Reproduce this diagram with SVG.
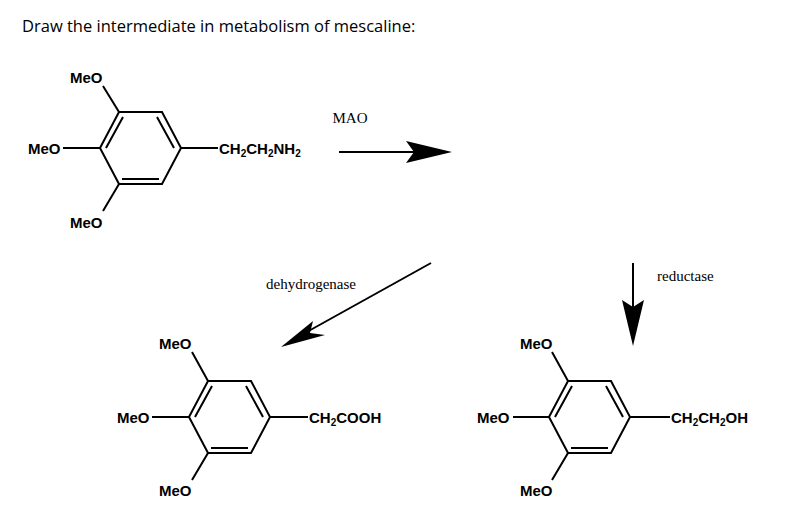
<svg xmlns="http://www.w3.org/2000/svg" width="810" height="513" viewBox="0 0 810 513">
<style>
.b{stroke:#000;stroke-width:2;fill:none}
.t{font-family:"Liberation Sans",Arial,sans-serif;font-size:15px;font-weight:bold;fill:#000}
.s{font-family:"Liberation Serif","Times New Roman",serif;font-size:15px;fill:#000}
.sub{font-size:10px}
</style>
<defs>
<g id="ring">
<path class="b" d="M0,0 L19,-36 L62,-36 L81,0 L62,36 L19,36 Z"/>
<path class="b" d="M6,0 L23,-31 M57,-31 L74,0 M22,31 L59,31"/>
</g>
</defs>
<rect width="810" height="513" fill="#fff"/>
<text x="22" y="32" font-family="'Open Sans','Liberation Sans',sans-serif" font-size="16.5">Draw the intermediate in metabolism of mescaline:</text>
<g id="mescaline">
<use href="#ring" x="100" y="148"/>
<path class="b" d="M119,112 L103,86 M100,148 L63,148 M119,184 L103,211 M181,148 L218,148"/>
<text class="t" x="70" y="83">MeO</text>
<text class="t" x="28" y="154">MeO</text>
<text class="t" x="70" y="228">MeO</text>
<text class="t" x="219" y="154">CH<tspan class="sub" dy="3">2</tspan><tspan dy="-3">CH</tspan><tspan class="sub" dy="3">2</tspan><tspan dy="-3">NH</tspan><tspan class="sub" dy="3">2</tspan></text>
</g>
<g id="acid">
<use href="#ring" x="189" y="417"/>
<path class="b" d="M208,381 L192,352 M189,417 L152,417 M208,453 L192,480 M270,417 L308,417"/>
<text class="t" x="159" y="349">MeO</text>
<text class="t" x="117" y="423">MeO</text>
<text class="t" x="159" y="496">MeO</text>
<text class="t" x="309" y="423">CH<tspan class="sub" dy="3">2</tspan><tspan dy="-3">COOH</tspan></text>
</g>
<g id="alcohol">
<use href="#ring" x="549" y="417"/>
<path class="b" d="M568,381 L552,352 M549,417 L513,417 M568,453 L552,480 M630,417 L670,417"/>
<text class="t" x="520" y="349">MeO</text>
<text class="t" x="477" y="423">MeO</text>
<text class="t" x="520" y="496">MeO</text>
<text class="t" x="671" y="423">CH<tspan class="sub" dy="3">2</tspan><tspan dy="-3">CH</tspan><tspan class="sub" dy="3">2</tspan><tspan dy="-3">OH</tspan></text>
</g>
<g id="connectors">
<line class="b" x1="339" y1="152" x2="420" y2="152" stroke-width="1.5"/>
<path d="M452,152 L406,141 L414,152 L406,163 Z"/>
<line class="b" x1="431" y1="263" x2="305" y2="333" stroke-width="1.5"/>
<path d="M281,347 L313,321 L310,333 L325,335 Z"/>
<line class="b" x1="633" y1="263" x2="633" y2="315" stroke-width="1.5"/>
<path d="M633,346 L622,300 L633,307 L644,300 Z"/>
</g>
<text class="s" x="350" y="123" text-anchor="middle">MAO</text>
<text class="s" x="266" y="289">dehydrogenase</text>
<text class="s" x="657" y="281" font-size="14">reductase</text>
</svg>
